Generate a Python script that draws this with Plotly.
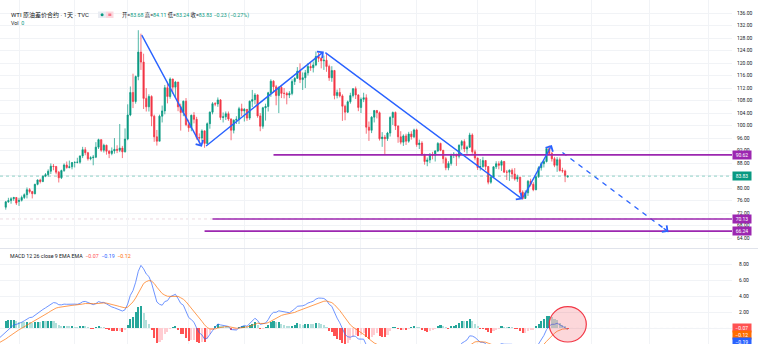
import plotly.graph_objects as go
import pandas as pd

# ---------------- DATA ----------------
# closes before the visible window (Oct 1 - Dec 24 2021), used only to seed the MACD EMAs
warmup_closes = [
    75.88, 77.62, 78.93, 77.43, 78.30, 79.35, 80.52, 80.64, 80.44, 81.31, 82.28, 82.44, 83.05, 83.87,
    82.50, 83.76, 83.76, 84.65, 82.66, 82.81, 83.57,
    84.05, 83.91, 80.86, 78.81, 81.27, 81.93, 84.15, 81.34, 81.59, 80.79, 80.88, 80.76, 78.36, 79.01,
    76.10, 76.75, 78.50, 78.39, 77.50, 68.15, 69.95, 66.18,
    65.57, 66.50, 66.26, 69.49, 72.05, 72.36, 70.94, 71.67, 71.29, 70.73, 70.87, 72.38, 70.86, 68.23,
    71.12, 72.76, 73.79, 73.80,
]

first_date = "2021-12-27"
last_date = "2022-10-19"

opens = [
    73.9, 75.6, 76.0, 76.6, 77.0,
    75.7, 76.1, 77.0, 77.9, 79.5, 78.9, 78.2, 81.2, 82.6, 82.1, 83.8, 84.3, 85.4, 87.0, 86.9, 85.1, 83.3, 85.6, 87.4, 86.6, 86.8,
    88.2, 88.2, 88.3, 90.3, 92.3, 91.3, 89.4, 89.7, 89.9, 93.1, 95.5, 92.1, 93.7, 91.8, 91.1, 91.9, 92.4, 92.1, 92.8, 91.6,
    95.7, 103.4, 110.6, 107.7, 115.7, 123.5, 120.3, 108.7, 106.0, 109.3, 103.0, 96.4, 95.0, 103.0, 104.7, 112.1, 109.3, 114.9, 112.3, 113.9, 106.0, 104.2, 107.8,
    100.3, 99.3, 103.3, 102.0, 96.2, 96.0, 98.3, 94.3, 100.6, 104.3, 107.0, 106.9, 108.2, 102.6, 102.8, 103.8, 102.1, 98.5, 101.7, 102.0, 105.4,
    104.7, 105.2, 102.4, 107.8, 108.3, 109.8, 103.1, 99.8, 105.7, 106.1, 110.5, 114.2, 112.4, 109.6, 112.2, 110.3, 110.3, 109.8, 110.3, 114.1, 115.1, 117.4,
    114.7, 115.3, 116.9, 118.9, 118.5, 119.4, 122.1, 121.5, 120.7, 120.9, 118.9, 115.3, 117.6, 109.6, 110.6, 109.5, 106.2, 104.3, 107.6, 109.6, 111.8, 109.8,
    105.8, 108.4, 108.9, 99.5, 98.5, 102.7, 104.8, 104.1, 95.8, 96.3, 95.8, 97.6, 102.6, 104.2, 99.9, 96.4, 94.7, 96.7, 95.0, 97.3, 96.4,
    98.6, 93.9, 94.4, 90.7, 88.5, 89.0, 90.8, 90.5, 91.9, 94.3, 92.1, 89.4, 86.5, 87.9, 90.5, 90.8, 90.2, 93.7, 94.9, 92.5, 93.1, 97.0, 91.6,
    89.6, 86.6, 86.9, 88.8, 86.9, 81.9, 83.5, 86.8, 87.8, 87.3, 88.5, 85.1, 85.1, 85.7, 84.5, 82.9, 83.5, 78.7, 76.7, 78.5, 82.2, 81.2,
    79.5, 83.6, 86.5, 87.8, 88.5, 92.6, 91.1, 89.4, 87.3, 89.1, 85.6, 85.5, 83.68,
]
highs = [
    75.9, 76.9, 77.1, 77.2, 77.1,
    76.9, 77.6, 78.3, 80.2, 80.0, 79.1, 81.4, 82.8, 83.0, 84.0, 84.8, 86.0, 87.9, 87.7, 87.1, 85.5, 85.9, 87.9, 88.5, 88.8, 88.3,
    88.6, 89.7, 90.4, 93.2, 93.1, 91.6, 90.2, 90.6, 94.7, 95.8, 95.6, 94.2, 93.9, 92.2, 93.0, 96.0, 93.7, 100.5, 93.5, 99.1,
    106.8, 112.5, 116.6, 116.0, 130.5, 129.4, 123.0, 112.0, 110.0, 109.7, 103.5, 98.6, 103.5, 106.4, 113.0, 114.0, 115.4, 115.0, 114.3, 114.0, 107.0, 108.0, 108.8,
    101.9, 103.5, 104.3, 102.8, 97.5, 98.8, 98.5, 101.0, 104.5, 107.5, 107.5, 109.0, 108.5, 104.2, 104.5, 104.5, 102.3, 102.0, 103.0, 106.0, 107.0,
    105.6, 105.3, 108.0, 111.4, 110.4, 110.0, 104.0, 106.0, 107.0, 110.8, 114.8, 114.5, 113.0, 112.5, 113.0, 112.0, 110.8, 111.0, 114.8, 115.5, 118.7, 119.9,
    117.0, 117.8, 120.0, 120.0, 120.5, 123.7, 123.3, 122.0, 122.4, 123.0, 119.5, 119.0, 117.8, 111.5, 112.0, 110.0, 106.7, 108.0, 110.5, 112.0, 112.5, 110.0,
    109.0, 110.5, 110.0, 101.3, 103.0, 105.0, 105.0, 104.5, 97.9, 97.0, 98.0, 103.0, 104.5, 104.5, 100.0, 98.2, 97.2, 97.4, 98.0, 98.2, 99.0,
    99.0, 95.5, 95.0, 91.0, 89.8, 91.2, 91.6, 92.1, 94.7, 94.5, 92.2, 90.0, 88.6, 91.0, 91.5, 91.0, 94.0, 95.4, 95.6, 93.6, 97.7, 97.5, 92.3,
    89.8, 89.3, 90.0, 89.0, 87.1, 84.0, 87.0, 88.6, 88.6, 89.0, 88.7, 85.8, 86.0, 86.3, 86.4, 84.3, 83.6, 79.3, 79.3, 82.6, 83.0, 81.9,
    84.0, 87.0, 88.4, 89.0, 92.8, 93.6, 91.6, 90.0, 89.9, 89.8, 86.5, 85.9, 84.11,
]
lows = [
    73.1, 75.3, 75.0, 75.9, 74.6,
    74.3, 75.7, 76.5, 76.7, 78.3, 76.7, 78.0, 80.9, 81.5, 81.9, 83.5, 83.7, 84.5, 85.7, 84.4, 81.8, 82.9, 85.2, 86.2, 86.3, 86.0,
    86.6, 87.9, 87.8, 89.6, 90.5, 88.8, 88.9, 87.3, 89.6, 92.5, 91.6, 91.4, 90.7, 89.6, 90.5, 91.0, 91.2, 91.5, 89.6, 91.4,
    95.3, 103.0, 105.6, 107.0, 114.5, 117.8, 105.3, 104.5, 104.5, 99.8, 94.8, 93.6, 95.0, 101.0, 103.6, 107.1, 108.6, 110.2, 108.9, 104.6, 98.4, 103.0, 99.8,
    98.0, 98.2, 100.7, 95.5, 93.5, 95.0, 92.9, 94.0, 99.0, 103.6, 106.2, 106.0, 101.8, 101.0, 101.8, 101.5, 95.3, 97.5, 100.5, 100.5, 103.0,
    101.3, 101.5, 101.8, 105.9, 106.8, 102.5, 98.2, 99.0, 101.6, 104.5, 109.2, 110.6, 106.5, 104.0, 108.8, 108.7, 106.8, 108.8, 109.7, 113.0, 115.0, 113.6,
    111.4, 112.0, 116.0, 117.5, 117.0, 119.0, 120.3, 118.3, 117.8, 117.2, 114.3, 114.0, 108.4, 108.7, 109.0, 101.5, 101.7, 104.0, 107.0, 109.0, 108.5, 104.6,
    104.0, 107.5, 97.4, 95.1, 97.6, 101.0, 102.3, 95.2, 93.2, 90.6, 95.1, 96.5, 100.2, 98.6, 94.5, 94.0, 93.5, 93.8, 94.5, 95.5, 96.0,
    93.2, 92.5, 90.4, 87.5, 87.0, 88.0, 89.2, 88.5, 91.5, 91.8, 87.9, 85.7, 85.7, 87.2, 89.6, 87.1, 89.5, 92.3, 91.5, 91.0, 92.8, 91.0, 88.9,
    85.8, 85.6, 86.5, 85.8, 81.2, 81.4, 83.4, 86.1, 86.0, 85.5, 84.9, 82.6, 82.3, 83.0, 82.4, 82.0, 78.2, 76.3, 76.5, 77.5, 80.5, 79.0,
    79.3, 83.3, 85.6, 86.6, 88.2, 90.7, 88.5, 86.7, 85.2, 85.3, 84.9, 81.9, 83.24,
]
closes = [
    75.6, 76.0, 76.6, 77.0, 75.2,
    76.1, 77.0, 77.9, 79.5, 78.9, 78.2, 81.2, 82.6, 82.1, 83.8, 84.3, 85.4, 87.0, 86.9, 85.1, 83.3, 85.6, 87.4, 86.6, 86.8, 88.2,
    88.2, 88.3, 90.3, 92.3, 91.3, 89.4, 89.7, 89.9, 93.1, 95.5, 92.1, 93.7, 91.8, 91.1, 91.9, 92.4, 92.1, 92.8, 91.6, 95.7,
    103.4, 110.6, 107.7, 115.7, 123.5, 120.3, 108.7, 106.0, 109.3, 103.0, 96.4, 95.0, 103.0, 104.7, 112.1, 109.3, 114.9, 112.3, 113.9, 106.0, 104.2, 107.8, 100.3,
    99.3, 103.3, 102.0, 96.2, 96.0, 98.3, 94.3, 100.6, 104.3, 107.0, 106.9, 108.2, 102.6, 102.8, 103.8, 102.1, 98.5, 101.7, 102.0, 105.4, 104.7,
    105.2, 102.4, 107.8, 108.3, 109.8, 103.1, 99.8, 105.7, 106.1, 110.5, 114.2, 112.4, 109.6, 112.2, 110.3, 110.3, 109.8, 110.3, 114.1, 115.1, 117.4, 114.7,
    115.3, 116.9, 118.9, 118.5, 119.4, 122.1, 121.5, 120.7, 120.9, 118.9, 115.3, 117.6, 109.6, 110.6, 109.5, 106.2, 104.3, 107.6, 109.6, 111.8, 109.8, 105.8,
    108.4, 108.9, 99.5, 98.5, 102.7, 104.8, 104.1, 95.8, 96.3, 95.8, 97.6, 102.6, 104.2, 99.9, 96.4, 94.7, 96.7, 95.0, 97.3, 96.4, 98.6,
    93.9, 94.4, 90.7, 88.5, 89.0, 90.8, 90.5, 91.9, 94.3, 92.1, 89.4, 86.5, 87.9, 90.5, 90.8, 90.2, 93.7, 94.9, 92.5, 93.1, 97.0, 91.6, 89.6,
    86.6, 86.9, 88.8, 86.9, 81.9, 83.5, 86.8, 87.8, 87.3, 88.5, 85.1, 85.1, 85.7, 84.5, 82.9, 83.5, 78.7, 76.7, 78.5, 82.2, 81.2, 79.5,
    83.6, 86.5, 87.8, 88.5, 92.6, 91.1, 89.4, 87.3, 89.1, 85.6, 85.5, 84.06, 83.83,
]

price_ticks = [64, 68, 72, 76, 80, 84, 88, 92, 96, 100, 104, 108, 112, 116, 120, 124, 128, 132, 136]
macd_ticks = [0, 2, 4, 6, 8]

# horizontal support/resistance levels drawn by the user: (price, start date)
levels = [(90.62, "2022-05-17"), (70.13, "2022-04-14"), (66.24, "2022-04-11")]
# solid arrows drawn by the user: (start date, start price, end date, end price)
arrows = [
    ("2022-03-08", 129.4, "2022-04-08", 93.2),
    ("2022-04-11", 93.1, "2022-06-13", 123.7),
    ("2022-06-13", 123.7, "2022-09-26", 76.4),
    ("2022-09-26", 76.7, "2022-10-11", 93.8),
]
dashed_arrow = ("2022-10-17", 91.4, "2022-12-12", 66.0)
# highlight circle on the MACD pane: (left date, right date, low value, high value)
circle = ("2022-10-10", "2022-10-28", -1.75, 2.67)

last_close_text = "83.83"
title_text = "WTI 原油差价合约 · 1天 · TVC"
ohlc_labels = ["开", "高", "低", "收"]
ohlc_values = ["83.68", "84.11", "83.24", "83.83"]
change_text = "−0.23 (−0.27%)"
macd_legend_values = ["−0.07", "−0.19", "−0.12"]

# ---------------- DERIVED ----------------
W, H = 758, 344
calendar = pd.bdate_range(first_date, "2023-02-28")
pos = {d.strftime("%Y-%m-%d"): i for i, d in enumerate(calendar)}
n = min(len(opens), len(highs), len(lows), len(closes), pos[last_date] + 1)
idx = list(range(n))

all_close = pd.Series(warmup_closes + closes[:n])
ema12 = all_close.ewm(span=12, adjust=False).mean()
ema26 = all_close.ewm(span=26, adjust=False).mean()
macd = ema12 - ema26
signal = macd.ewm(span=9, adjust=False).mean()
hist = macd - signal
off = len(warmup_closes)
all_idx = [i - off for i in range(len(all_close))]

hist_colors = []
for k in range(off, len(hist)):
    h, p = hist.iloc[k], hist.iloc[k - 1]
    if h >= 0:
        hist_colors.append("#26a69a" if h > p else "#b2dfdb")
    else:
        hist_colors.append("#ffcdd2" if h > p else "#ff5252")

month_starts = []
prev_m = None
for i, d in enumerate(calendar):
    if d.month != prev_m:
        if i > 0:
            month_starts.append(i)
        prev_m = d.month

# pixel helpers for layout-only placement
def pxx(px):
    return px / W

def pxy(py):
    return 1 - py / H

plot_right = 732
x_left, x_right = -2.17, 273.96
main_bottom_px, macd_top_px = 248, 249
y_lo, y_hi = 60.84, 140.17
m_lo, m_hi = -2.0, 9.875

FONT = "Roboto, 'Noto Sans CJK SC', sans-serif"
GREEN, RED, PURPLE, BLUE, ORANGE = "#089981", "#f23645", "#9c27b0", "#2962ff", "#ff6d00"

fig = go.Figure()

fig.add_trace(go.Candlestick(
    x=idx, open=opens[:n], high=highs[:n], low=lows[:n], close=closes[:n],
    increasing=dict(line=dict(color=GREEN, width=0.7), fillcolor=GREEN),
    decreasing=dict(line=dict(color=RED, width=0.7), fillcolor=RED),
    whiskerwidth=0, xaxis="x", yaxis="y", showlegend=False, hoverinfo="skip",
))

fig.add_trace(go.Bar(
    x=idx, y=list(hist.iloc[off:]), marker=dict(color=hist_colors, line=dict(width=0)),
    width=0.78, xaxis="x2", yaxis="y2", showlegend=False, hoverinfo="skip",
))
sel = [k for k in range(len(all_idx)) if all_idx[k] >= -3]
fig.add_trace(go.Scatter(
    x=[all_idx[k] for k in sel], y=[macd.iloc[k] for k in sel], mode="lines",
    line=dict(color=BLUE, width=0.9), opacity=0.75, xaxis="x2", yaxis="y2", showlegend=False, hoverinfo="skip",
))
fig.add_trace(go.Scatter(
    x=[all_idx[k] for k in sel], y=[signal.iloc[k] for k in sel], mode="lines",
    line=dict(color=ORANGE, width=0.9), opacity=0.75, xaxis="x2", yaxis="y2", showlegend=False, hoverinfo="skip",
))

# dashed projection line
d0, p0, d1, p1 = dashed_arrow
fig.add_trace(go.Scatter(
    x=[pos[d0], pos[d1]], y=[p0, p1], mode="lines",
    line=dict(color=BLUE, width=1.3, dash="5px,5px"), xaxis="x", yaxis="y",
    showlegend=False, hoverinfo="skip", cliponaxis=False,
))

shapes = []
# faint dotted line and last price line
shapes.append(dict(type="line", xref="paper", yref="y", x0=0, x1=pxx(plot_right), y0=70.13, y1=70.13,
                   line=dict(color="rgba(200,150,170,0.45)", width=0.8, dash="dot"), layer="below"))
shapes.append(dict(type="line", xref="paper", yref="y", x0=0, x1=pxx(plot_right), y0=closes[n - 1], y1=closes[n - 1],
                   line=dict(color="rgba(8,153,129,0.55)", width=0.8, dash="dot")))
for lvl, start in levels:
    shapes.append(dict(type="line", xref="x", yref="y", x0=pos[start], x1=x_right, y0=lvl, y1=lvl,
                       line=dict(color=PURPLE, width=1.6)))
# MACD histogram price line
shapes.append(dict(type="line", xref="paper", yref="y2", x0=0, x1=pxx(plot_right),
                   y0=hist.iloc[-1], y1=hist.iloc[-1],
                   line=dict(color="#c0c0c0", width=0.8, dash="3px,3px"), layer="below"))
# pane separator
shapes.append(dict(type="line", xref="paper", yref="paper", x0=0, x1=1, y0=pxy(248.5), y1=pxy(248.5),
                   line=dict(color="#e0e3eb", width=1)))
# highlight circle
c0, c1, cy0, cy1 = circle
shapes.append(dict(type="circle", xref="x2", yref="y2", x0=pos[c0], x1=pos[c1], y0=cy0, y1=cy1,
                   line=dict(color=RED, width=1.2), fillcolor="rgba(242,54,69,0.2)"))
# legend pills
shapes.append(dict(type="rect", xref="paper", yref="paper", x0=pxx(98), x1=pxx(106), y0=pxy(18), y1=pxy(11.5),
                   fillcolor="#e9ecf2", line=dict(width=0)))
shapes.append(dict(type="circle", xref="paper", yref="paper", x0=pxx(100.6), x1=pxx(103.6), y0=pxy(16.3), y1=pxy(13.3),
                   fillcolor=GREEN, line=dict(width=0)))
shapes.append(dict(type="rect", xref="paper", yref="paper", x0=pxx(106), x1=pxx(113.5), y0=pxy(18), y1=pxy(11.5),
                   fillcolor="#fbd9df", line=dict(width=0)))
shapes.append(dict(type="rect", xref="paper", yref="paper", x0=pxx(108.3), x1=pxx(111.3), y0=pxy(16), y1=pxy(13.5),
                   fillcolor="#f7768a", line=dict(width=0)))

annotations = []
for (sd, sp, ed, ep) in arrows:
    annotations.append(dict(x=pos[ed], y=ep, ax=pos[sd], ay=sp, xref="x", yref="y", axref="x", ayref="y",
                            text="", showarrow=True, arrowhead=4, arrowsize=1.15, arrowwidth=1.4,
                            arrowcolor=BLUE, standoff=0))
# head of dashed arrow
fx = pos[d1] - 0.06 * (pos[d1] - pos[d0])
fy = p1 - 0.06 * (p1 - p0)
annotations.append(dict(x=pos[d1], y=p1, ax=fx, ay=fy, xref="x", yref="y", axref="x", ayref="y",
                        text="", showarrow=True, arrowhead=4, arrowsize=1.2, arrowwidth=1.3,
                        arrowcolor=BLUE, standoff=0))

# axis value boxes
box_x = pxx(742)
for lvl, _ in levels:
    annotations.append(dict(xref="paper", yref="y", x=box_x, y=lvl, text=f"{lvl:.2f}", showarrow=False,
                            font=dict(family=FONT, size=5, color="white"), bgcolor=PURPLE,
                            borderpad=1, xanchor="center", yanchor="middle", width=16))
annotations.append(dict(xref="paper", yref="y", x=box_x, y=closes[n - 1], text=last_close_text, showarrow=False,
                        font=dict(family=FONT, size=5, color="white"), bgcolor=GREEN,
                        borderpad=1, xanchor="center", yanchor="middle", width=16))
macd_boxes = [("−0.07", "#ff5252"), ("−0.12", ORANGE), ("−0.19", BLUE)]
for j, (t, col) in enumerate(macd_boxes):
    annotations.append(dict(xref="paper", yref="paper", x=box_x, y=pxy(328.3 + j * 6.6), text=t, showarrow=False,
                            font=dict(family=FONT, size=5, color="white"), bgcolor=col,
                            borderpad=0.8, xanchor="center", yanchor="middle", width=16))

# legend texts
annotations.append(dict(xref="paper", yref="paper", x=pxx(8.5), y=pxy(14.8), text=title_text, showarrow=False,
                        xanchor="left", yanchor="middle", font=dict(family=FONT, size=6, color="#131722")))
ohlc = " ".join(f"<span style='color:#131722'>{l}=</span><span style='color:{GREEN}'>{v}</span>"
                for l, v in zip(ohlc_labels, ohlc_values))
ohlc += f" <span style='color:{GREEN}'>{change_text}</span>"
annotations.append(dict(xref="paper", yref="paper", x=pxx(119.5), y=pxy(14.8), text=ohlc, showarrow=False,
                        xanchor="left", yanchor="middle", font=dict(family=FONT, size=5.3, color="#131722")))
annotations.append(dict(xref="paper", yref="paper", x=pxx(8.5), y=pxy(23.3),
                        text=f"Vol  <span style='color:{GREEN}'>0</span>", showarrow=False,
                        xanchor="left", yanchor="middle", font=dict(family=FONT, size=5.3, color="#131722")))
macd_txt = ("MACD 12 26 close 9 EMA EMA  "
            f"<span style='color:#ff5252'>{macd_legend_values[0]}</span>  "
            f"<span style='color:{BLUE}'>{macd_legend_values[1]}</span>  "
            f"<span style='color:{ORANGE}'>{macd_legend_values[2]}</span>")
annotations.append(dict(xref="paper", yref="paper", x=pxx(8), y=pxy(256), text=macd_txt, showarrow=False,
                        xanchor="left", yanchor="middle", font=dict(family=FONT, size=5.3, color="#131722")))

grid = "#f1f3f6"
fig.update_layout(
    width=W, height=H, margin=dict(l=0, r=0, t=0, b=0),
    paper_bgcolor="white", plot_bgcolor="white",
    font=dict(family=FONT, size=5, color="#131722"),
    showlegend=False, bargap=0,
    xaxis=dict(domain=[0, pxx(plot_right)], range=[x_left, x_right], anchor="y",
               showticklabels=False, ticks="", tickmode="array", tickvals=month_starts,
               showgrid=True, gridcolor=grid, gridwidth=1, zeroline=False, showline=False,
               rangeslider=dict(visible=False)),
    xaxis2=dict(domain=[0, pxx(plot_right)], range=[x_left, x_right], anchor="y2", matches="x",
                showticklabels=False, ticks="", tickmode="array", tickvals=month_starts,
                showgrid=True, gridcolor=grid, gridwidth=1, zeroline=False, showline=False),
    yaxis=dict(domain=[pxy(main_bottom_px), 1], range=[y_lo, y_hi], side="right", anchor="x",
               tickmode="array", tickvals=price_ticks,
               ticktext=["" if v == 84 else f"{v:.2f}" for v in price_ticks],
               ticks="", ticklabelstandoff=4, tickfont=dict(family=FONT, size=5, color="#131722"),
               showgrid=True, gridcolor=grid, zeroline=False, showline=False),
    yaxis2=dict(domain=[0, pxy(macd_top_px)], range=[m_lo, m_hi], side="right", anchor="x2",
                tickmode="array", tickvals=macd_ticks,
                ticktext=["" if v == 0 else f"{v:.2f}" for v in macd_ticks],
                ticks="", ticklabelstandoff=6, tickfont=dict(family=FONT, size=5, color="#131722"),
                showgrid=True, gridcolor=grid, zeroline=False, showline=False),
    shapes=shapes, annotations=annotations,
)

fig.write_html("out.html")
